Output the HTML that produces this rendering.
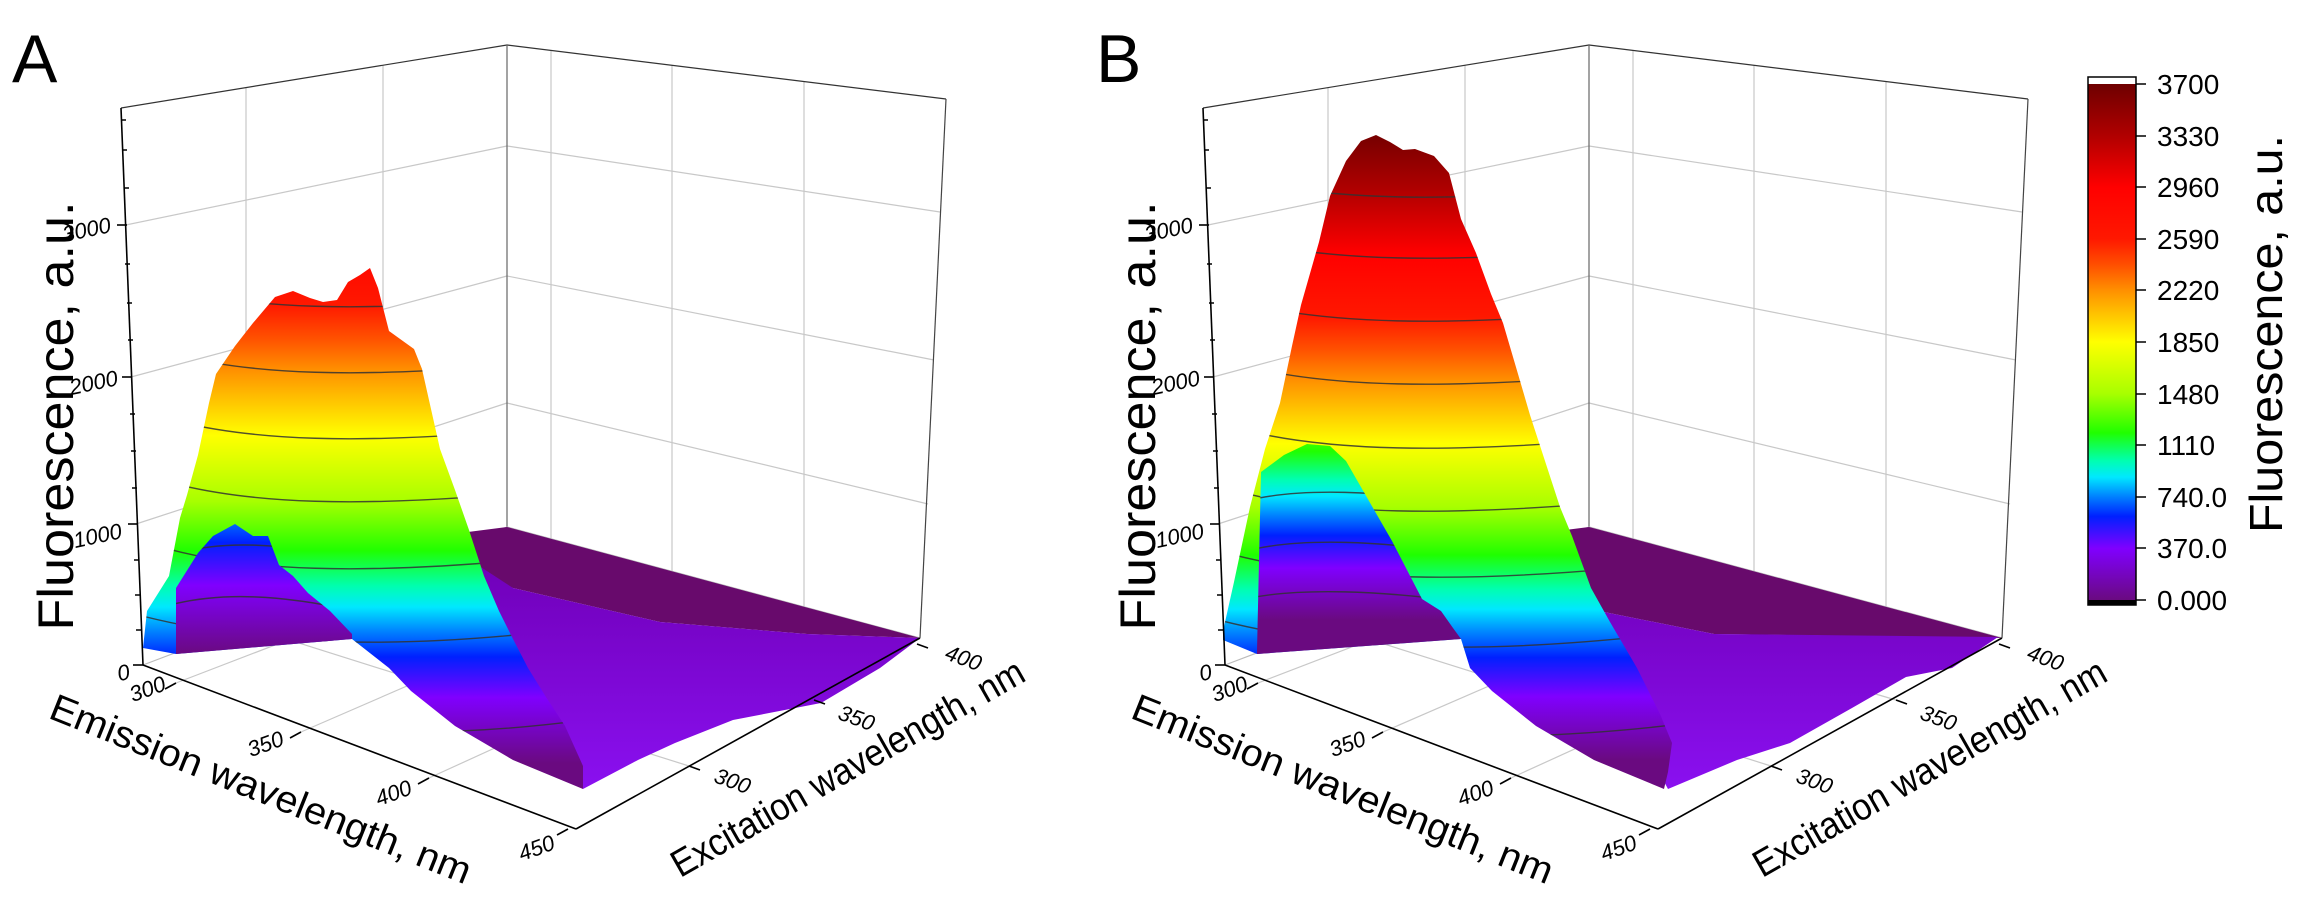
<!DOCTYPE html>
<html><head><meta charset="utf-8"><style>html,body{margin:0;padding:0;background:#fff}svg{display:block}text{font-family:"Liberation Sans",sans-serif;fill:#000}</style></head><body>
<svg width="2303" height="903" viewBox="0 0 2303 903" xmlns="http://www.w3.org/2000/svg">
<defs>
<linearGradient id="gA" gradientUnits="userSpaceOnUse" x1="0" y1="108" x2="0" y2="763">
<stop offset="0" stop-color="#6e0000"/><stop offset="0.1" stop-color="#b00000"/><stop offset="0.2" stop-color="#ff0000"/><stop offset="0.3" stop-color="#ff1800"/><stop offset="0.351" stop-color="#ff5000"/><stop offset="0.4" stop-color="#ff9000"/><stop offset="0.5" stop-color="#ffff00"/><stop offset="0.6" stop-color="#a8ff00"/><stop offset="0.676" stop-color="#20ff00"/><stop offset="0.73" stop-color="#00ffb0"/><stop offset="0.762" stop-color="#00e8ff"/><stop offset="0.8" stop-color="#0080ff"/><stop offset="0.838" stop-color="#0020ff"/><stop offset="0.9" stop-color="#8000ff"/><stop offset="1" stop-color="#6a0a80"/>
</linearGradient>
<linearGradient id="gB" href="#gA" gradientUnits="userSpaceOnUse" x1="0" y1="127" x2="0" y2="760"/>
<linearGradient id="gHA" href="#gA" gradientUnits="userSpaceOnUse" x1="0" y1="-34" x2="0" y2="654"/>
<linearGradient id="gHB" href="#gA" gradientUnits="userSpaceOnUse" x1="0" y1="99" x2="0" y2="620"/>
<linearGradient id="gCB" href="#gA" gradientUnits="userSpaceOnUse" x1="0" y1="84" x2="0" y2="600"/>
<linearGradient id="gV" x1="0" y1="0" x2="0" y2="1"><stop offset="0" stop-color="#7000b8"/><stop offset="1" stop-color="#8a10f0"/></linearGradient>
<clipPath id="cA"><polygon points="143,648 147,611 169,576 180,518 187,495 198,455 209,403 216,374 235,346 253,323 275,297 293,291 310,298 323,302 337,300 348,282 360,275 370,268 378,288 389,331 414,349 422,369 440,449 455,490 469,530 484,576 499,611 513,639 528,668 546,697 565,726 583,766 583,789 513,760 455,726 411,691 389,668 352,639 176,654"/></clipPath>
<clipPath id="cHA"><polygon points="176,654 176,588 198,553 213,536 235,524 253,536 268,536 279,565 293,576 308,593 330,611 352,634 352,639"/></clipPath>
<clipPath id="cB"><polygon points="1223,631 1234,582 1250,507 1265,449 1280,403 1292,346 1301,305 1319,242 1330,196 1346,161 1361,141 1376,135 1390,142 1403,150 1415,149 1434,156 1449,173 1461,219 1476,253 1491,294 1503,323 1518,374 1530,415 1545,461 1560,507 1572,536 1591,588 1610,622 1637,668 1660,714 1672,743 1668,772 1664,789 1594,760 1536,726 1492,691 1470,668 1461,639 1257,654 1223,640"/></clipPath>
<clipPath id="cHB"><polygon points="1257,651 1261,472 1284,455 1307,444 1330,446 1346,461 1369,501 1392,541 1407,570 1422,599 1441,611 1453,628 1461,639 1257,654"/></clipPath>
</defs>

<g fill="none" stroke-width="1.2">
<g stroke="#c8c8c8">
<line x1="136" y1="524" x2="507" y2="403"/><line x1="131" y1="377" x2="507" y2="276"/><line x1="126" y1="225" x2="507" y2="146"/>
<line x1="507" y1="403" x2="928" y2="504"/><line x1="507" y1="276" x2="934" y2="360"/><line x1="507" y1="146" x2="940" y2="212"/>
<line x1="246" y1="88" x2="246" y2="626"/><line x1="383" y1="65" x2="383" y2="574"/>
<line x1="551" y1="50" x2="551" y2="539"/><line x1="672" y1="65" x2="672" y2="571"/><line x1="804" y1="82" x2="804" y2="607"/>
<line x1="176" y1="683" x2="551" y2="539"/><line x1="301" y1="732" x2="672" y2="571"/><line x1="429" y1="778" x2="804" y2="607"/>
<line x1="689" y1="766" x2="245" y2="626"/><line x1="814" y1="700" x2="383" y2="574"/>
</g>
<polyline points="121,108 507,45 946,99" stroke="#333"/>
<line x1="507" y1="45" x2="507" y2="527" stroke="#666"/>
<line x1="946" y1="99" x2="920" y2="638" stroke="#444"/>
<line x1="143" y1="665" x2="507" y2="527" stroke="#bbb"/>
<line x1="507" y1="527" x2="920" y2="638" stroke="#bbb"/>
</g>
<g transform="translate(1082,0)" fill="none" stroke-width="1.2">
<g stroke="#c8c8c8">
<line x1="136" y1="524" x2="507" y2="403"/><line x1="131" y1="377" x2="507" y2="276"/><line x1="126" y1="225" x2="507" y2="146"/>
<line x1="507" y1="403" x2="928" y2="504"/><line x1="507" y1="276" x2="934" y2="360"/><line x1="507" y1="146" x2="940" y2="212"/>
<line x1="246" y1="88" x2="246" y2="626"/><line x1="383" y1="65" x2="383" y2="574"/>
<line x1="551" y1="50" x2="551" y2="539"/><line x1="672" y1="65" x2="672" y2="571"/><line x1="804" y1="82" x2="804" y2="607"/>
<line x1="176" y1="683" x2="551" y2="539"/><line x1="301" y1="732" x2="672" y2="571"/><line x1="429" y1="778" x2="804" y2="607"/>
<line x1="689" y1="766" x2="245" y2="626"/><line x1="814" y1="700" x2="383" y2="574"/>
</g>
<polyline points="121,108 507,45 946,99" stroke="#333"/>
<line x1="507" y1="45" x2="507" y2="527" stroke="#666"/>
<line x1="946" y1="99" x2="920" y2="638" stroke="#444"/>
<line x1="143" y1="665" x2="507" y2="527" stroke="#bbb"/>
<line x1="507" y1="527" x2="920" y2="638" stroke="#bbb"/>
</g>

<!-- Surface A -->
<polygon points="250,560 507,527 920,638 807,634 660,622 513,588 470,575" fill="#680a6c"/>
<polygon points="470,560 513,588 660,622 807,634 920,638 880,668 821,703 733,720 675,743 638,760 583,789 540,700" fill="url(#gV)"/>
<rect x="100" y="100" width="520" height="720" fill="url(#gA)" clip-path="url(#cA)"/>
<g clip-path="url(#cA)" fill="none" stroke="#333" stroke-width="1.4" opacity="0.85">
<path d="M120 270 C220 315 380 315 600 290"/><path d="M120 336 C220 381 380 381 600 356"/><path d="M120 402 C220 447 380 447 600 422"/><path d="M120 465 C220 510 380 510 600 485"/><path d="M120 532 C220 577 380 577 600 552"/><path d="M120 610 C260 650 420 650 600 625"/><path d="M120 700 C300 740 460 740 620 715"/>
</g>
<rect x="170" y="520" width="190" height="140" fill="url(#gHA)" clip-path="url(#cHA)"/>
<g clip-path="url(#cHA)" fill="none" stroke="#333" stroke-width="1.4" opacity="0.85">
<path d="M170 555 C220 540 280 542 360 560"/><path d="M170 605 C220 592 280 594 360 612"/>
</g>

<!-- Surface B -->
<polygon points="1330,560 1589,527 2002,638 1714,634 1599,611 1560,590" fill="#680a6c"/>
<polygon points="1560,560 1599,611 1714,634 1998,637 1952,668 1906,677 1852,708 1790,743 1737,760 1668,789 1620,700" fill="url(#gV)"/>
<rect x="1200" y="120" width="500" height="700" fill="url(#gB)" clip-path="url(#cB)"/>
<g clip-path="url(#cB)" fill="none" stroke="#333" stroke-width="1.4" opacity="0.85">
<path d="M1200 165 C1300 205 1460 205 1700 180"/><path d="M1200 226 C1300 266 1460 266 1700 241"/><path d="M1200 289 C1300 329 1460 329 1700 304"/><path d="M1200 352 C1300 392 1460 392 1700 367"/><path d="M1200 416 C1300 456 1460 456 1700 431"/><path d="M1200 479 C1300 519 1460 519 1700 494"/><path d="M1200 545 C1320 585 1480 585 1700 560"/><path d="M1200 615 C1340 655 1500 655 1700 630"/><path d="M1200 704 C1380 744 1540 744 1720 719"/>
</g>
<rect x="1250" y="440" width="220" height="220" fill="url(#gHB)" clip-path="url(#cHB)"/>
<g clip-path="url(#cHB)" fill="none" stroke="#333" stroke-width="1.4" opacity="0.85">
<path d="M1250 500 C1300 488 1380 490 1470 505"/><path d="M1250 550 C1300 538 1380 540 1470 555"/><path d="M1250 598 C1300 588 1380 590 1470 603"/>
</g>

<!-- Front axes + labels A -->
<g>
<g stroke="#000" stroke-width="1.6" fill="none">
<line x1="121" y1="108" x2="143" y2="665"/>
<line x1="143" y1="665" x2="576" y2="829"/>
<line x1="576" y1="829" x2="920" y2="638"/>
<line x1="143" y1="665" x2="133" y2="665"/><line x1="138" y1="524" x2="128" y2="524"/><line x1="132" y1="377" x2="122" y2="377"/><line x1="127" y1="225" x2="117" y2="225"/>
<path d="M141 630h-5M140 595h-5M139 560h-5M137 488h-5M136 451h-5M135 414h-5M133 340h-5M132 303h-5M130 264h-5M129 188h-5M127 150h-5M126 120h-5"/>
<line x1="176" y1="683" x2="165" y2="689"/><line x1="301" y1="732" x2="290" y2="738"/><line x1="429" y1="778" x2="418" y2="784"/><line x1="568" y1="829" x2="557" y2="835"/>
<line x1="689" y1="766" x2="700" y2="770"/><line x1="814" y1="700" x2="825" y2="704"/><line x1="917" y1="644" x2="928" y2="648"/>
</g>
<g font-size="22" font-style="italic" text-anchor="middle">
<text transform="translate(125,680) rotate(-12)">0</text>
<text transform="translate(99,543) rotate(-12)">1000</text>
<text transform="translate(95,390) rotate(-12)">2000</text>
<text transform="translate(88,237) rotate(-12)">3000</text>
<text transform="translate(150,696) rotate(-20)">300</text>
<text transform="translate(268,751) rotate(-20)">350</text>
<text transform="translate(396,800) rotate(-20)">400</text>
<text transform="translate(539,855) rotate(-20)">450</text>
<text transform="translate(730,788) rotate(20)">300</text>
<text transform="translate(854,725) rotate(20)">350</text>
<text transform="translate(961,665) rotate(20)">400</text>
</g>
<text transform="translate(73,416) rotate(-90)" font-size="50" text-anchor="middle" textLength="429" lengthAdjust="spacingAndGlyphs">Fluorescence, a.u.</text>
<text transform="translate(256,801) rotate(21.8)" font-size="38" text-anchor="middle" textLength="450" lengthAdjust="spacingAndGlyphs">Emission wavelength, nm</text>
<text transform="translate(854,779) rotate(-29.7)" font-size="38" text-anchor="middle" textLength="400" lengthAdjust="spacingAndGlyphs">Excitation wavelength, nm</text>
<text x="12" y="82" font-size="68">A</text>
</g>

<!-- Front axes + labels B -->
<g transform="translate(1082,0)">
<g stroke="#000" stroke-width="1.6" fill="none">
<line x1="121" y1="108" x2="143" y2="665"/>
<line x1="143" y1="665" x2="576" y2="829"/>
<line x1="576" y1="829" x2="920" y2="638"/>
<line x1="143" y1="665" x2="133" y2="665"/><line x1="138" y1="524" x2="128" y2="524"/><line x1="132" y1="377" x2="122" y2="377"/><line x1="127" y1="225" x2="117" y2="225"/>
<path d="M141 630h-5M140 595h-5M139 560h-5M137 488h-5M136 451h-5M135 414h-5M133 340h-5M132 303h-5M130 264h-5M129 188h-5M127 150h-5M126 120h-5"/>
<line x1="176" y1="683" x2="165" y2="689"/><line x1="301" y1="732" x2="290" y2="738"/><line x1="429" y1="778" x2="418" y2="784"/><line x1="568" y1="829" x2="557" y2="835"/>
<line x1="689" y1="766" x2="700" y2="770"/><line x1="814" y1="700" x2="825" y2="704"/><line x1="917" y1="644" x2="928" y2="648"/>
</g>
<g font-size="22" font-style="italic" text-anchor="middle">
<text transform="translate(125,680) rotate(-12)">0</text>
<text transform="translate(99,543) rotate(-12)">1000</text>
<text transform="translate(95,390) rotate(-12)">2000</text>
<text transform="translate(88,237) rotate(-12)">3000</text>
<text transform="translate(150,696) rotate(-20)">300</text>
<text transform="translate(268,751) rotate(-20)">350</text>
<text transform="translate(396,800) rotate(-20)">400</text>
<text transform="translate(539,855) rotate(-20)">450</text>
<text transform="translate(730,788) rotate(20)">300</text>
<text transform="translate(854,725) rotate(20)">350</text>
<text transform="translate(961,665) rotate(20)">400</text>
</g>
<text transform="translate(73,416) rotate(-90)" font-size="50" text-anchor="middle" textLength="429" lengthAdjust="spacingAndGlyphs">Fluorescence, a.u.</text>
<text transform="translate(256,801) rotate(21.8)" font-size="38" text-anchor="middle" textLength="450" lengthAdjust="spacingAndGlyphs">Emission wavelength, nm</text>
<text transform="translate(854,779) rotate(-29.7)" font-size="38" text-anchor="middle" textLength="400" lengthAdjust="spacingAndGlyphs">Excitation wavelength, nm</text>
<text x="14" y="82" font-size="68">B</text>
</g>

<!-- Colorbar -->
<rect x="2088" y="84" width="48" height="516" fill="url(#gCB)"/>
<rect x="2088" y="600" width="48" height="5" fill="#000"/>
<rect x="2088" y="77" width="48" height="7" fill="#fff"/>
<rect x="2088" y="77" width="48" height="528" fill="none" stroke="#000" stroke-width="1.5"/>
<g stroke="#000" stroke-width="1.5">
<line x1="2136" y1="84" x2="2146" y2="84"/><line x1="2136" y1="136" x2="2146" y2="136"/><line x1="2136" y1="187" x2="2146" y2="187"/><line x1="2136" y1="239" x2="2146" y2="239"/><line x1="2136" y1="290" x2="2146" y2="290"/><line x1="2136" y1="342" x2="2146" y2="342"/><line x1="2136" y1="394" x2="2146" y2="394"/><line x1="2136" y1="445" x2="2146" y2="445"/><line x1="2136" y1="497" x2="2146" y2="497"/><line x1="2136" y1="548" x2="2146" y2="548"/><line x1="2136" y1="600" x2="2146" y2="600"/>
</g>
<g font-size="28">
<text x="2157" y="94">3700</text><text x="2157" y="146">3330</text><text x="2157" y="197">2960</text><text x="2157" y="249">2590</text><text x="2157" y="300">2220</text><text x="2157" y="352">1850</text><text x="2157" y="404">1480</text><text x="2157" y="455">1110</text><text x="2157" y="507">740.0</text><text x="2157" y="558">370.0</text><text x="2157" y="610">0.000</text>
</g>
<text transform="translate(2282,334) rotate(-90)" font-size="46" text-anchor="middle" textLength="398" lengthAdjust="spacingAndGlyphs">Fluorescence, a.u.</text>
</svg>
</body></html>
